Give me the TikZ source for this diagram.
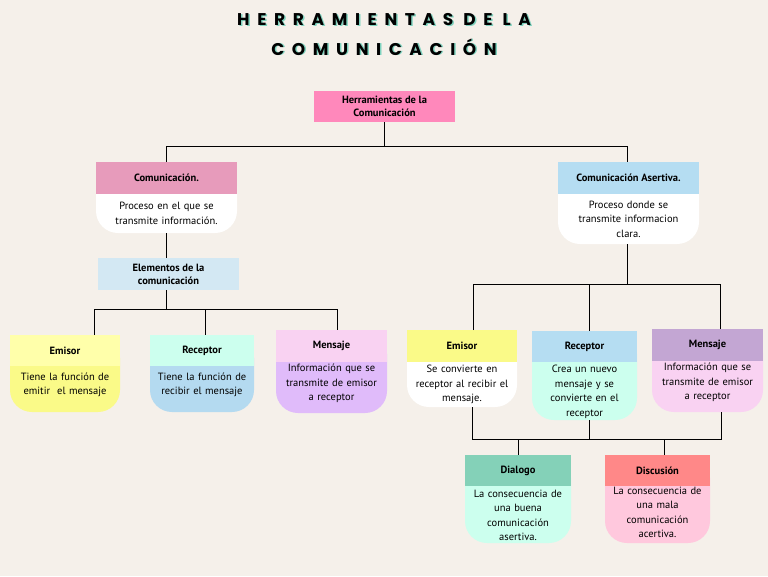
\documentclass[tikz,border=0pt]{standalone}
\usepackage{fontspec}
\setmainfont{PT Sans}
\newfontfamily\titlefont[LetterSpace=45]{Poppins}
\usetikzlibrary{calc}
\definecolor{bg}{HTML}{F5F0EA}
\definecolor{shadowc}{HTML}{7FD3BF}
\definecolor{cRoot}{HTML}{FF88BB}
\definecolor{cCom}{HTML}{E79BBB}
\definecolor{cElem}{HTML}{D3E8F3}
\definecolor{cYel1}{HTML}{FFFFAA}
\definecolor{cYel2}{HTML}{FAFA88}
\definecolor{cMint}{HTML}{CCFFEE}
\definecolor{cBlue}{HTML}{B4DAF0}
\definecolor{cPink}{HTML}{F9D2F2}
\definecolor{cLila}{HTML}{E0BBFA}
\definecolor{cCa}{HTML}{B5DDF2}
\definecolor{cPurp}{HTML}{C3A6D3}
\definecolor{cGreen}{HTML}{84D1B8}
\definecolor{cRed}{HTML}{FF8888}
\definecolor{cRose}{HTML}{FFC8DD}
\newcommand\card[9]{%
  \fill[#8,rounded corners=22pt] ({#2},{#5-30}) -- ({#2},{#6}) -- ({#3},{#6}) -- ({#3},{#5-30}) -- cycle;
  \node[fill=#7,inner sep=0pt,minimum width={#3pt-#2pt},minimum height={#5pt-#4pt},font=\bfseries\fontsize{10.5}{12}\selectfont,align=center] (#1) at ({(#2+#3)/2},{(#4+#5)/2}) {#9};
}
\newcommand\body[7]{%
  \node[inner sep=0pt,text width={#3pt-#2pt},align=center,font=\fontsize{10.5}{14.5}\selectfont] (#1) at ({(#2+#3)/2},{(#4+#5)/2+#6}) {#7};
}
\tikzset{conn/.style={draw=black,line width=1pt}}
\begin{document}
\begin{tikzpicture}[x=1pt,y=-1pt]
\fill[bg] (0,0) rectangle (768,576);
\useasboundingbox (0,0) rectangle (768,576);
\foreach \dx/\c in {1.5/shadowc,0/black}{
  \node[text=\c,font=\titlefont\bfseries\fontsize{17}{20}\selectfont] (t1\c) at (384+\dx,20+\dx*0.5) {HERRAMIENTAS\hspace{10pt}DE\hspace{10pt}LA};
  \node[text=\c,font=\titlefont\bfseries\fontsize{17}{20}\selectfont] (t2\c) at (384+\dx,47+\dx*0.5) {COMUNICACIÓN};
}
\coordinate (bus1) at (0,146);
\coordinate (bus2) at (0,309);
\coordinate (bus3) at (0,284);
\coordinate (bus4) at (0,439);
% root
\node[fill=cRoot,inner sep=0pt,minimum width=141pt,minimum height=31pt,align=center,font=\bfseries\fontsize{10.5}{13}\selectfont] (root) at (384.5,106.5) {Herramientas de la\\Comunicación};
\card{com}{96}{237}{162}{194}{233}{cCom}{white}{Comunicación.}
\body{comb}{96}{237}{194}{233}{0}{Proceso en el que se\\transmite información.}
\node[fill=cElem,inner sep=0pt,minimum width=141pt,minimum height=32pt,align=center,font=\bfseries\fontsize{10.5}{13}\selectfont] (elem) at (168.5,274) {Elementos de la\\comunicación};
\card{emL}{10}{120}{335}{366}{412}{cYel1}{cYel2}{Emisor}
\body{emLb}{10}{120}{366}{412}{-4}{Tiene la función de\\emitir\ \ el mensaje}
\card{reL}{150}{254}{335}{366}{412}{cMint}{cBlue}{Receptor}
\body{reLb}{150}{254}{366}{412}{-4}{Tiene la función de\\recibir el mensaje}
\card{meL}{276}{387}{330}{362}{413}{cPink}{cLila}{Mensaje}
\body{meLb}{276}{387}{362}{413}{-4}{Información que se\\transmite de emisor\\a receptor}
\card{ca}{558}{699}{162}{194}{244}{cCa}{white}{Comunicación Asertiva.}
\body{cab}{558}{699}{194}{244}{0}{Proceso donde se\\transmite informacion\\clara.}
\card{emR}{407}{517}{330}{362}{407}{cYel2}{white}{Emisor}
\body{emRb}{407}{517}{362}{407}{0}{Se convierte en\\receptor al recibir el\\mensaje.}
\card{reR}{532}{637}{331}{362}{420}{cCa}{cMint}{Receptor}
\body{reRb}{532}{637}{362}{420}{1}{Crea un nuevo\\mensaje y se\\convierte en el\\receptor}
\card{meR}{652}{763}{329}{361}{412}{cPurp}{cPink}{Mensaje}
\body{meRb}{652}{763}{361}{412}{-4}{Información que se\\transmite de emisor\\a receptor}
\card{dia}{465}{571}{455}{486}{543}{cGreen}{cMint}{Dialogo}
\body{diab}{465}{571}{486}{543}{1}{La consecuencia de\\una buena\\comunicación\\asertiva.}
\card{dis}{605}{710}{455}{486}{543}{cRed}{cRose}{Discusión}
\body{disb}{605}{710}{486}{543}{-2}{La consecuencia de\\una mala\\comunicación\\acertiva.}
% connectors
\coordinate (c166) at (166,0);
\coordinate (c627) at (627,0);
\draw[conn] (root.south) -- (root.south |- bus1) -- (c166 |- bus1) -- (c166 |- com.north);
\draw[conn] (root.south |- bus1) -- (c627 |- bus1) -- (c627 |- ca.north);
\draw[conn] (166,233) -- (c166 |- elem.north);
\draw[conn] (c166 |- elem.south) -- (c166 |- bus2);
\draw[conn] (94,335) -- (94,309) -- (337,309) -- (337,330);
\draw[conn] (205,309) -- (205,335);
\draw[conn] (627,244) -- (627,284);
\draw[conn] (473,330) -- (473,284) -- (720,284) -- (720,329);
\draw[conn] (589,284) -- (589,331);
\draw[conn] (472,407) -- (472,439) -- (721,439) -- (721,412);
\draw[conn] (589,420) -- (589,439);
\draw[conn] (518,439) -- (518,455);
\draw[conn] (664,439) -- (664,455);
\end{tikzpicture}
\end{document}
